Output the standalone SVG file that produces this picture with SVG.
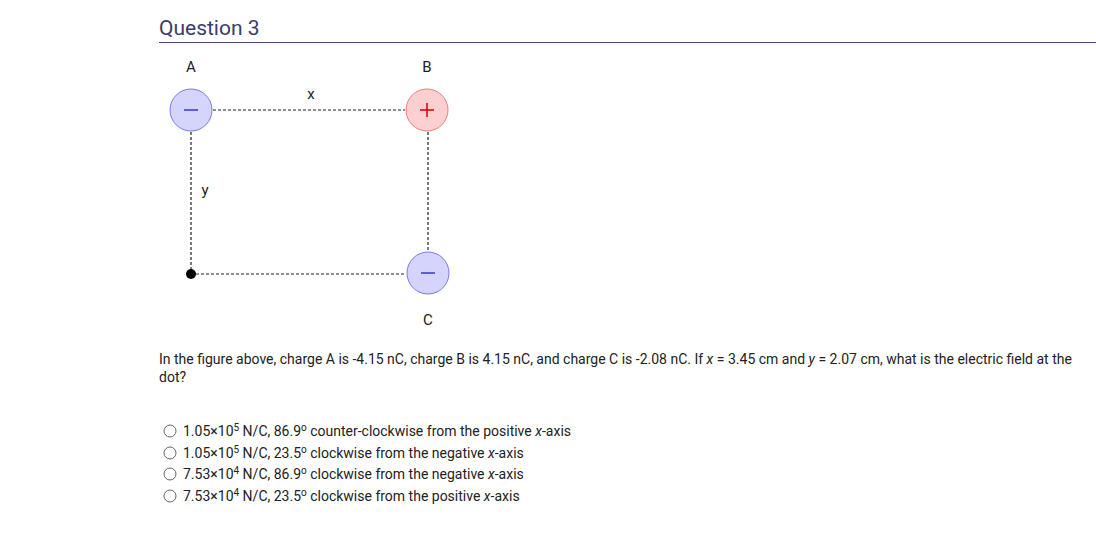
<svg xmlns="http://www.w3.org/2000/svg" width="1096" height="534" viewBox="0 0 1096 534">
<style>
text{font-family:Roboto,"Liberation Sans",sans-serif;fill:#222}
.lbl{font-size:15px;text-anchor:middle}
.dash{stroke:#222;stroke-width:1.2;stroke-dasharray:3,2;fill:none}
.neg{fill:#d4d4fc;stroke:#7b7bea;stroke-width:1}
.pos{fill:#fcd0d0;stroke:#ec8080;stroke-width:1}
.q{font-size:14px}
.radio{fill:#fff;stroke:#666;stroke-width:1}
</style>
<rect width="1096" height="534" fill="#fff"/>
<text x="159" y="35" style="font-size:21px;fill:#3b3b6b">Question 3</text>
<line x1="159" y1="42.5" x2="1096" y2="42.5" stroke="#4a4a7a" stroke-width="1"/>
<g id="connectors">
<line class="dash" x1="213" y1="110" x2="405" y2="110"/>
<line class="dash" x1="191" y1="132" x2="191" y2="272"/>
<line class="dash" x1="428" y1="132" x2="428" y2="250"/>
<line class="dash" x1="196" y1="274" x2="406" y2="274"/>
</g>
<g id="nodeA"><circle class="neg" cx="191" cy="110" r="21"/><line x1="184" y1="110" x2="198" y2="110" stroke="#2020c0" stroke-width="1.3"/><text class="lbl" x="191" y="72">A</text></g>
<g id="nodeB"><circle class="pos" cx="427" cy="110" r="21"/><line x1="420" y1="110" x2="434" y2="110" stroke="#d00000" stroke-width="1.5"/><line x1="427" y1="103" x2="427" y2="117" stroke="#d00000" stroke-width="1.5"/><text class="lbl" x="427" y="72">B</text></g>
<g id="nodeC"><circle class="neg" cx="428" cy="273" r="21"/><line x1="421" y1="273" x2="435" y2="273" stroke="#2020c0" stroke-width="1.3"/><text class="lbl" x="428" y="325">C</text></g>
<g id="dot"><circle cx="191" cy="274" r="5" fill="#000"/></g>
<text class="lbl" x="311" y="99">x</text>
<text class="lbl" x="205" y="195">y</text>
<text class="q" x="159" y="364">In the figure above, charge A is -4.15 nC, charge B is 4.15 nC, and charge C is -2.08 nC. If <tspan font-style="italic">x</tspan> = 3.45 cm and <tspan font-style="italic">y</tspan> = 2.07 cm, what is the electric field at the</text>
<text class="q" x="159" y="382">dot?</text>
<circle class="radio" cx="170" cy="431" r="6"/>
<circle class="radio" cx="170" cy="453" r="6"/>
<circle class="radio" cx="170" cy="474" r="6"/>
<circle class="radio" cx="170" cy="496" r="6"/>
<text class="q" x="183" y="436">1.05×10<tspan dy="-5" font-size="10">5</tspan><tspan dy="5"> N/C, 86.9</tspan><tspan dy="-5" font-size="10">o</tspan><tspan dy="5"> counter-clockwise from the positive </tspan><tspan font-style="italic">x</tspan>-axis</text>
<text class="q" x="183" y="458">1.05×10<tspan dy="-5" font-size="10">5</tspan><tspan dy="5"> N/C, 23.5</tspan><tspan dy="-5" font-size="10">o</tspan><tspan dy="5"> clockwise from the negative </tspan><tspan font-style="italic">x</tspan>-axis</text>
<text class="q" x="183" y="479">7.53×10<tspan dy="-5" font-size="10">4</tspan><tspan dy="5"> N/C, 86.9</tspan><tspan dy="-5" font-size="10">o</tspan><tspan dy="5"> clockwise from the negative </tspan><tspan font-style="italic">x</tspan>-axis</text>
<text class="q" x="183" y="501">7.53×10<tspan dy="-5" font-size="10">4</tspan><tspan dy="5"> N/C, 23.5</tspan><tspan dy="-5" font-size="10">o</tspan><tspan dy="5"> clockwise from the positive </tspan><tspan font-style="italic">x</tspan>-axis</text>
</svg>
